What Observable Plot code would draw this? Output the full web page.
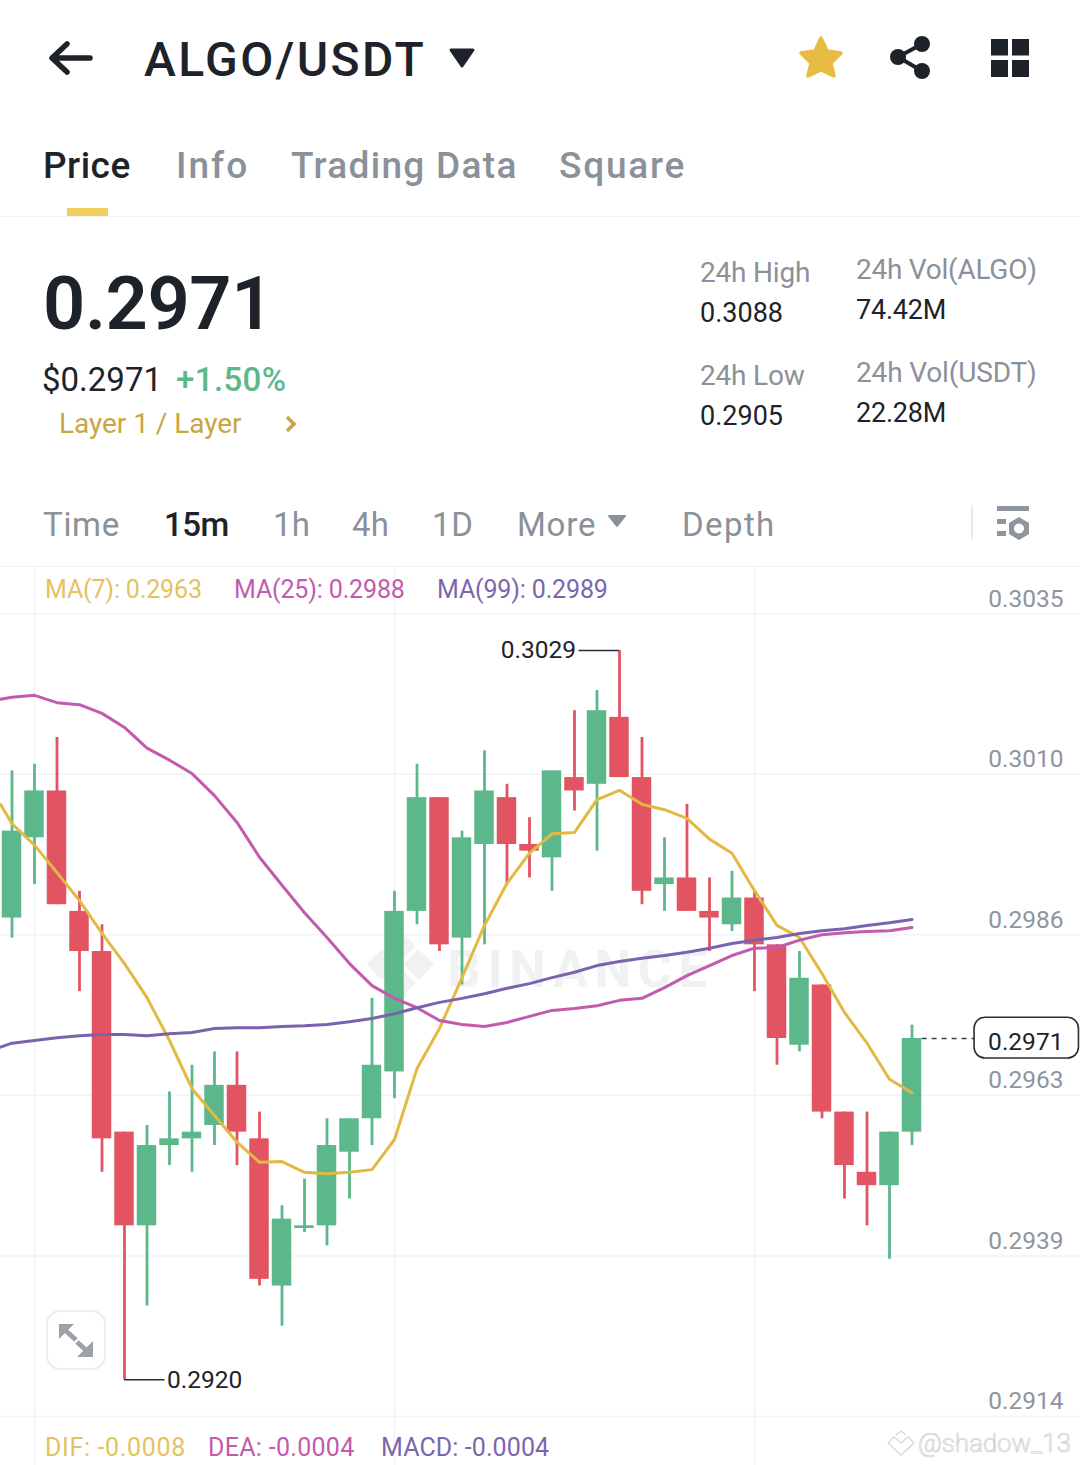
<!DOCTYPE html>
<html>
<head>
<meta charset="utf-8">
<script src="https://cdn.jsdelivr.net/npm/d3@7"></script>
<script src="https://cdn.jsdelivr.net/npm/@observablehq/plot@0.6"></script>
<style>
html,body{margin:0;padding:0;background:#fff;}
#page{position:relative;width:1080px;height:1465px;overflow:hidden;font-family:Roboto,sans-serif;background:#fff;}
#chart{position:absolute;left:0;top:566px;}
.t{position:absolute;white-space:nowrap;transform:translateY(-50%);line-height:1;}
.ln{position:absolute;}
svg.ic{position:absolute;left:0;top:0;pointer-events:none;}
</style>
</head>
<body>
<div id="page"></div>
<script>
// ---- chart data ----
const opens  = [0.2989,0.3001,0.3008,0.2990,0.2984,0.2957,0.2943,0.2955,0.2956,0.2958,0.2964,0.2956,0.2934,0.29426,0.2943,0.2954,0.2959,0.2966,0.2990,0.3007,0.2986,0.3000,0.3007,0.3000,0.2998,0.3010,0.3009,0.3019,0.3010,0.2994,0.2995,0.2990,0.2988,0.2992,0.2985,0.2970,0.2979,0.2960,0.2951,0.2949,0.2957];
const closes = [0.3002,0.3008,0.2991,0.2984,0.2956,0.2943,0.2955,0.2956,0.2957,0.2964,0.2957,0.2935,0.2944,0.2943,0.2955,0.2959,0.2967,0.2990,0.3007,0.2985,0.3001,0.3008,0.3000,0.2999,0.3011,0.3008,0.3020,0.3010,0.2993,0.2995,0.2990,0.2989,0.2992,0.2985,0.2971,0.2980,0.2960,0.2952,0.2949,0.2957,0.2971];
const highs  = [0.3011,0.3012,0.3016,0.2993,0.2988,0.2957,0.2958,0.2963,0.2967,0.2969,0.2969,0.2960,0.2946,0.2950,0.2959,0.2959,0.2977,0.2993,0.3012,0.3007,0.3002,0.3014,0.3009,0.3004,0.3011,0.3020,0.3023,0.3029,0.3016,0.3001,0.3006,0.2995,0.2996,0.2993,0.2985,0.2984,0.2979,0.2960,0.2960,0.2957,0.2973];
const lows   = [0.2986,0.2994,0.2991,0.2978,0.2951,0.2920,0.2931,0.2952,0.2951,0.2955,0.2952,0.2934,0.2928,0.2942,0.2940,0.2947,0.2955,0.2962,0.2988,0.2984,0.2979,0.2985,0.2994,0.2995,0.2993,0.3005,0.2999,0.3010,0.2991,0.2990,0.2990,0.2984,0.2987,0.2978,0.2967,0.2969,0.2959,0.2947,0.2943,0.2938,0.2955];
// moving averages: first value sits at the left edge of the frame, then one per candle
const ma7  = [0.30060,0.30031,0.29999,0.29958,0.29916,0.29867,0.29822,0.29771,0.29707,0.29635,0.29595,0.29555,0.29525,0.29526,0.29510,0.29508,0.29510,0.29514,0.29559,0.29665,0.29725,0.29801,0.29879,0.29942,0.29987,0.30016,0.30018,0.30067,0.30081,0.30060,0.30052,0.30039,0.30008,0.29987,0.29931,0.29879,0.29861,0.29807,0.29749,0.29703,0.29649,0.29629];
const ma25 = [0.30217,0.30220,0.30223,0.30212,0.30209,0.30196,0.30175,0.30144,0.30126,0.30106,0.30073,0.30033,0.29981,0.29939,0.29898,0.29861,0.29822,0.29789,0.29770,0.29756,0.29737,0.29731,0.29728,0.29734,0.29743,0.29752,0.29755,0.29759,0.29767,0.29770,0.29786,0.29804,0.29819,0.29834,0.29845,0.29846,0.29857,0.29865,0.29868,0.29870,0.29871,0.29876];
const ma99 = [0.29697,0.29703,0.29707,0.29711,0.29714,0.29716,0.29716,0.29714,0.29717,0.29719,0.29725,0.29726,0.29726,0.29728,0.29729,0.29731,0.29735,0.29740,0.29747,0.29756,0.29764,0.29770,0.29777,0.29785,0.29792,0.29801,0.29809,0.29819,0.29825,0.29830,0.29834,0.29839,0.29845,0.29852,0.29857,0.29861,0.29867,0.29871,0.29874,0.29879,0.29883,0.29888];
const maIndex = [-0.511].concat(d3.range(opens.length));
const gridPrices = [0.30345,0.30105,0.29865,0.29625,0.29385,0.29145];
const tickLabels = ["0.3035","0.3010","0.2986","0.2963","0.2939","0.2914"];
const vGridIndex = [1,17,33];
const lastPrice = 0.2971;
const extremes = [
  {i:27, price:0.3029, label:"0.3029", from:25.2},
  {i:5,  price:0.2920, label:"0.2920", from:6.8}
];

// ---- page text ----
const page = document.getElementById("page");
const dark="#1e2329", grey="#8b9199", green="#5cb88a", gold="#c9a544";
const yel="#e3c25f", mag="#c25bad", pur="#7b66ad";
function put(txt,x,y,size,color,weight,ls,extra){
  const e=document.createElement("div");e.className="t";e.textContent=txt;
  e.style.cssText=`left:${x}px;top:${y}px;font-size:${size}px;color:${color};font-weight:${weight||400};letter-spacing:${ls||0}px;z-index:3;${extra||""}`;
  page.appendChild(e);
}
function bar(x,y,w,h,c){const e=document.createElement("div");e.className="ln";e.style.cssText=`left:${x}px;top:${y}px;width:${w}px;height:${h}px;background:${c}`;page.appendChild(e);}

put("ALGO/USDT",144,60,48,dark,500,2.4);
put("Price",43,165,37,dark,500,0.5);
put("Info",176,165,37,grey,500,2);
put("Trading Data",291,165,37,grey,500,1.3);
put("Square",559,165,37,grey,500,1.8);
bar(67,208,41,8,"#f0cf5c");
bar(0,216,1080,1,"#f1f2f4");
put("0.2971",43,304,74,dark,600,-0.4);
put("$0.2971",42,379,33,dark,400,0);
put("+1.50%",176,379,33,green,500,0.4);
put("Layer 1 / Layer",59,424,28,gold,400,-0.05);
put("24h High",700,273,28,grey,400,-0.2);
put("0.3088",700,313,27,dark,400,0);
put("24h Vol(ALGO)",856,270,28,grey,400,-0.25);
put("74.42M",856,310,27,dark,400,-0.2);
put("24h Low",700,376,28,grey,400,-0.2);
put("0.2905",700,416,27,dark,400,0);
put("24h Vol(USDT)",856,373,28,grey,400,-0.15);
put("22.28M",856,413,27,dark,400,-0.2);
put("Time",43,524,33,grey,400,0.7);
put("15m",164,524,33,dark,500,-0.5);
put("1h",273,524,33,grey,400,0.3);
put("4h",352,524,33,grey,400,0.3);
put("1D",432,524,33,grey,400,0.7);
put("More",517,524,33,grey,400,0.8);
put("Depth",682,524,33,grey,400,1.4);
bar(0,566,1080,1,"#f1f2f4");
put("MA(7): 0.2963",45,589,25,yel,400,-0.15);
put("MA(25): 0.2988",234,589,25,mag,400,-0.15);
put("MA(99): 0.2989",437,589,25,pur,400,-0.15);
put("DIF: -0.0008",45,1447,25,yel,400,0.65);
put("DEA: -0.0004",208,1447,25,mag,400,0.3);
put("MACD: -0.0004",381,1447,25,pur,400,0.1);
put("@shadow_13",918,1443,26,"#f6f6f7",300,-0.1,"-webkit-text-stroke:0.7px #cfd2d6;");

// ---- chart ----
const candles = opens.map((o,i)=>({i,open:o,close:closes[i],high:highs[i],low:lows[i]}));
const up = candles.filter(d=>d.close>d.open), down = candles.filter(d=>d.close<=d.open);
const UP="#5cb88a", DOWN="#e25462", GRID="#f2f3f5", half=0.433;
const series = (vals)=>vals.map((v,k)=>({i:maIndex[k],v}));
const spaced = (px)=>(index,scales,values,dims,ctx,next)=>{const g=next(index,scales,values,dims,ctx);g.style.letterSpacing=px+"px";return g;};
const chart = Plot.plot({
  width:1080, height:899, margin:0,
  x:{domain:[-0.5111,47.4889],axis:null},
  y:{domain:[0.29071735,0.30415531],axis:null},
  style:{background:"transparent",fontFamily:"Roboto,sans-serif",overflow:"visible"},
  marks:[
    Plot.ruleY(gridPrices,{stroke:GRID,strokeWidth:1.5}),
    Plot.ruleX(vGridIndex,{stroke:GRID,strokeWidth:1.5}),
    Plot.text(["BINANCE"],{x:[19.36],y:[0.29812],text:d=>d,textAnchor:"start",fontSize:52,fontWeight:700,fill:"#f0f1f2",render:spaced(6.6)}),
    Plot.text(["❖"],{x:[17.25],y:[0.29815],text:d=>d,fontSize:92,fontFamily:"DejaVu Sans",fill:"#f0f1f2"}),
    Plot.ruleX(up,{x:"i",y1:"low",y2:"high",stroke:UP,strokeWidth:2.8}),
    Plot.ruleX(down,{x:"i",y1:"low",y2:"high",stroke:DOWN,strokeWidth:2.8}),
    Plot.rect(up,{x1:d=>d.i-half,x2:d=>d.i+half,y1:"open",y2:"close",fill:UP}),
    Plot.rect(down,{x1:d=>d.i-half,x2:d=>d.i+half,y1:"open",y2:"close",fill:DOWN}),
    Plot.line(series(ma7),{x:"i",y:"v",stroke:"#e3b944",strokeWidth:3}),
    Plot.line(series(ma25),{x:"i",y:"v",stroke:"#c25bad",strokeWidth:3}),
    Plot.line(series(ma99),{x:"i",y:"v",stroke:"#7b62ad",strokeWidth:3}),
    Plot.ruleY(extremes,{y:"price",x1:"i",x2:"from",stroke:"#2a2f36",strokeWidth:1.4}),
    Plot.text(extremes.filter(d=>d.from<d.i),{x:"from",y:"price",text:"label",textAnchor:"end",dx:-3,fontSize:24.5,fill:dark}),
    Plot.text(extremes.filter(d=>d.from>d.i),{x:"from",y:"price",text:"label",textAnchor:"start",dx:2,fontSize:24.5,fill:dark}),
    Plot.ruleY([lastPrice],{x1:40.45,x2:42.78,stroke:"#3a3f47",strokeWidth:1.4,strokeDasharray:"5,5"}),
    Plot.text(gridPrices,{y:d=>d,text:(d,i)=>tickLabels[i],frameAnchor:"right",textAnchor:"end",dx:-17,dy:-15,fontSize:24.5,fill:"#8f959e"}),
    Plot.rect([lastPrice],{x1:42.78,x2:47.42,y1:0.29680,y2:0.29741,fill:"#fff",stroke:"#2a2f36",strokeWidth:1.6,rx:11}),
    Plot.text([lastPrice],{x:46.73,y:lastPrice,text:d=>d.toFixed(4),textAnchor:"end",dy:4,fontSize:24.5,fill:dark})
  ]
});
const holder=document.createElement("div");holder.id="chart";holder.appendChild(chart);page.appendChild(holder);

// ---- interface icons ----
const ic=document.createElementNS("http://www.w3.org/2000/svg","svg");
ic.setAttribute("class","ic");ic.setAttribute("width",1080);ic.setAttribute("height",1465);ic.style.zIndex=4;
ic.innerHTML=`
<path d="M90 58H53M67 44L52 58L67 72" fill="none" stroke="${dark}" stroke-width="5.5" stroke-linecap="round" stroke-linejoin="round"/>
<path d="M451 50H473L462 66Z" fill="${dark}" stroke="${dark}" stroke-width="3" stroke-linejoin="round"/>
<path d="M821 38L827 51L841 53L831 63L834 76L821 70L808 76L811 63L801 53L815 51Z" fill="#e8bc43" stroke="#e8bc43" stroke-width="3.5" stroke-linejoin="round"/>
<g fill="${dark}" stroke="none"><circle cx="898" cy="57" r="8"/><circle cx="922" cy="44" r="8"/><circle cx="922" cy="71" r="8"/>
<path d="M898 57L922 44M898 57L922 71" stroke="${dark}" stroke-width="4"/></g>
<g fill="${dark}"><rect x="991" y="39" width="17" height="16.5"/><rect x="1012" y="39" width="17" height="16.5"/><rect x="991" y="60" width="17" height="17"/><rect x="1012" y="60" width="17" height="17"/></g>
<path d="M287 417L294 424L287 431" fill="none" stroke="${gold}" stroke-width="3.5"/>
<path d="M609 516H625L617 526Z" fill="${grey}" stroke="${grey}" stroke-width="2" stroke-linejoin="round"/>
<rect x="971" y="505" width="2" height="34" fill="#e8eaec"/>
<g fill="#8f959e"><rect x="997" y="506" width="32" height="5"/><rect x="997" y="519" width="9" height="5"/><rect x="997" y="531" width="9" height="5"/>
<path fill-rule="evenodd" d="M1019 517L1029 523V534L1019 540L1009 534V523ZM1019 523.500a5 5 0 1 0 .01 0Z"/></g>
<rect x="47" y="1311" width="58" height="58" rx="13" fill="#fff" stroke="#eceef0" stroke-width="2"/>
<g fill="#9ca1a9"><path d="M59 1324H74L59 1339Z"/><path d="M93 1357H77L93 1341Z"/></g>
<path d="M65 1330L76 1340M87 1351L77 1342" stroke="#9ca1a9" stroke-width="5"/>
<path d="M888 1443L901 1455L914 1443M888 1443L894 1437L901 1443L908 1437L914 1443M896 1435L901 1431L906 1435" fill="none" stroke="#d5d7da" stroke-width="1.3"/>`;
page.appendChild(ic);
</script>
</body>
</html>
